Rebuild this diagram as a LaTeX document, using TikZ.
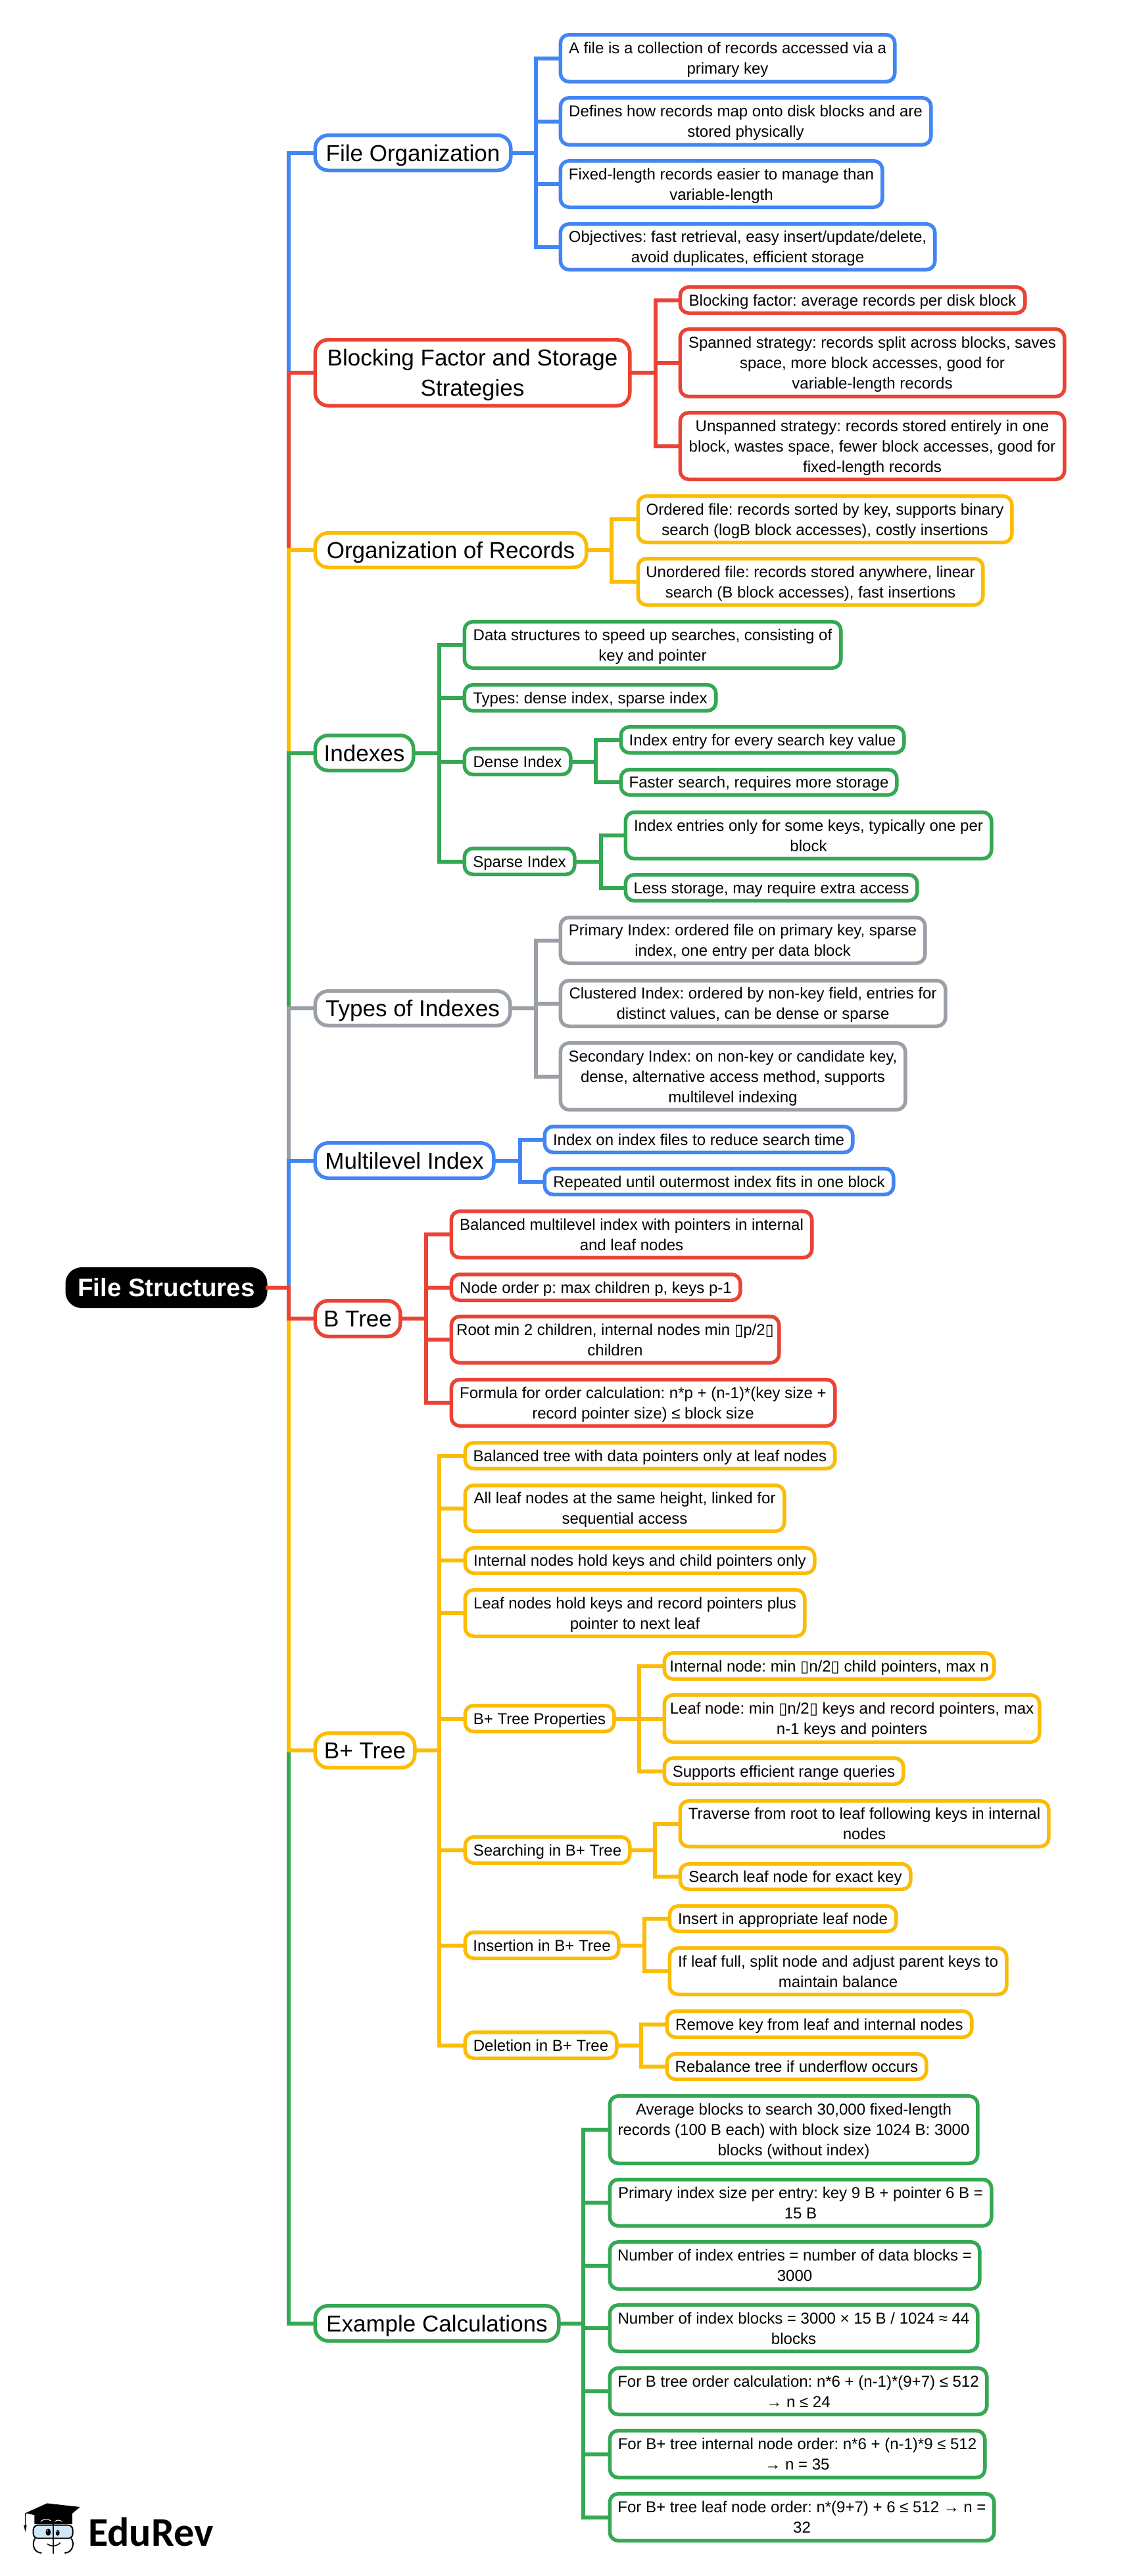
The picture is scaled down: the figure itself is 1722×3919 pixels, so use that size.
\documentclass[tikz,border=0pt]{standalone}
\usepackage{fontspec}
\setmainfont{Liberation Sans}
\newfontfamily\logofont{Carlito}
\newfontfamily\symfont{DejaVu Sans}
\definecolor{gblue}{HTML}{4285F4}
\definecolor{gred}{HTML}{EA4335}
\definecolor{gyel}{HTML}{FBBC04}
\definecolor{ggrn}{HTML}{34A853}
\definecolor{ggry}{HTML}{9AA0A6}
\definecolor{glass}{HTML}{CFE8F7}
\newcommand\tofu{{\symfont ▯}}
\tikzset{
  base/.style={rounded corners=#1,fill=white,line width=5.5pt,inner sep=0pt,outer sep=0pt,align=center,text=black,text depth=0pt},
  rootbox/.style={base=22pt,draw=black,fill=black,text=white,font=\frenchspacing\fontsize{38.5}{46}\selectfont\bfseries},
  lvone/.style={base=20pt,draw=#1,font=\frenchspacing\fontsize{35}{46.5}\selectfont},
  lvtwo/.style={base=13pt,draw=#1,font=\frenchspacing\fontsize{24}{31}\selectfont},
  conn/.style={line width=6pt,draw=#1,line join=miter},
}
\newcommand\bx[7]{%
  \pgfmathsetmacro\bcx{(#3+#5)/2}%
  \pgfmathsetmacro\bcy{(#4+#6)/2}%
  \pgfmathsetmacro\bw{#5-#3-2.5}%
  \pgfmathsetmacro\bh{#6-#4-5.5}%
  \node[#1,minimum width=\bw pt,minimum height=\bh pt] (#2) at (\bcx,\bcy) {#7};}
\newcommand\tr[2]{\coordinate (#1-t) at (#2,0);}
\newcommand\cn[3]{\draw[conn=#1] (#2.east) -- (#2.east -| #2-t) |- (#3.west);}
\begin{document}
\begin{tikzpicture}[x=1pt,y=-1pt]
\useasboundingbox (0,0) rectangle (1722,3919);
\fill[white] (0,0) rectangle (1722,3919);

% root and first level
\bx{rootbox}{root}{101}{1928}{405}{1990}{File Structures}
\bx{lvone=gblue}{f}{478}{203}{778}{262}{File Organization}
\bx{lvone=gred}{b}{478}{514}{959}{620}{Blocking Factor and Storage\\Strategies}
\bx{lvone=gyel}{o}{478}{808}{893}{866}{Organization of Records}
\bx{lvone=ggrn}{i}{478}{1116}{630}{1175}{Indexes}
\bx{lvone=ggry}{t}{478}{1505}{777}{1563}{Types of Indexes}
\bx{lvone=gblue}{m}{478}{1736}{752}{1795}{Multilevel Index}
\bx{lvone=gred}{bt}{478}{1976}{610}{2036}{B Tree}
\bx{lvone=gyel}{p}{478}{2634}{632}{2692}{B+ Tree}
\bx{lvone=ggrn}{e}{478}{3505}{851}{3564}{Example Calculations}

% File Organization
\bx{lvtwo=gblue}{f1}{851}{50}{1362}{127}{A file is a collection of records accessed via a\\primary key}
\bx{lvtwo=gblue}{f2}{851}{146}{1417}{223}{Defines how records map onto disk blocks and are\\stored physically}
\bx{lvtwo=gblue}{f3}{851}{242}{1343}{318}{Fixed-length records easier to manage than\\variable-length}
\bx{lvtwo=gblue}{f4}{851}{338}{1423}{413}{Objectives: fast retrieval, easy insert/update/delete,\\avoid duplicates, efficient storage}

% Blocking
\bx{lvtwo=gred}{b1}{1033}{434}{1560}{479}{Blocking factor: average records per disk block}
\bx{lvtwo=gred}{b2}{1033}{498}{1620}{606}{Spanned strategy: records split across blocks, saves\\space, more block accesses, good for\\variable-length records}
\bx{lvtwo=gred}{b3}{1033}{625}{1620}{732}{Unspanned strategy: records stored entirely in one\\block, wastes space, fewer block accesses, good for\\fixed-length records}

% Organization
\bx{lvtwo=gyel}{o1}{969}{752}{1540}{828}{Ordered file: records sorted by key, supports binary\\search (logB block accesses), costly insertions}
\bx{lvtwo=gyel}{o2}{969}{847}{1496}{923}{Unordered file: records stored anywhere, linear\\search (B block accesses), fast insertions}

% Indexes
\bx{lvtwo=ggrn}{i1}{705}{943}{1280}{1019}{Data structures to speed up searches, consisting of\\key and pointer}
\bx{lvtwo=ggrn}{i2}{705}{1039}{1090}{1084}{Types: dense index, sparse index}
\bx{lvtwo=ggrn}{i3}{705}{1136}{869}{1181}{Dense Index}
\bx{lvtwo=ggrn}{i31}{943}{1103}{1376}{1148}{Index entry for every search key value}
\bx{lvtwo=ggrn}{i32}{943}{1168}{1365}{1212}{Faster search, requires more storage}
\bx{lvtwo=ggrn}{i4}{705}{1288}{875}{1333}{Sparse Index}
\bx{lvtwo=ggrn}{i41}{950}{1233}{1509}{1309}{Index entries only for some keys, typically one per\\block}
\bx{lvtwo=ggrn}{i42}{950}{1328}{1396}{1373}{Less storage, may require extra access}

% Types
\bx{lvtwo=ggry}{t1}{851}{1393}{1408}{1468}{Primary Index: ordered file on primary key, sparse\\index, one entry per data block}
\bx{lvtwo=ggry}{t2}{851}{1489}{1439}{1564}{Clustered Index: ordered by non-key field, entries for\\distinct values, can be dense or sparse}
\bx{lvtwo=ggry}{t3}{851}{1584}{1378}{1691}{Secondary Index: on non-key or candidate key,\\dense, alternative access method, supports\\multilevel indexing}

% Multilevel
\bx{lvtwo=gblue}{m1}{827}{1711}{1298}{1756}{Index on index files to reduce search time}
\bx{lvtwo=gblue}{m2}{827}{1775}{1360}{1820}{Repeated until outermost index fits in one block}

% B Tree
\bx{lvtwo=gred}{bt1}{685}{1840}{1236}{1916}{Balanced multilevel index with pointers in internal\\and leaf nodes}
\bx{lvtwo=gred}{bt2}{685}{1936}{1127}{1981}{Node order p: max children p, keys p-1}
\bx{lvtwo=gred}{bt3}{685}{2000}{1186}{2076}{Root min 2 children, internal nodes min \tofu p/2\tofu\\children}
\bx{lvtwo=gred}{bt4}{685}{2096}{1271}{2172}{Formula for order calculation: n*p + (n-1)*(key size +\\record pointer size) ≤ block size}

% B+ Tree
\bx{lvtwo=gyel}{p1}{706}{2192}{1271}{2237}{Balanced tree with data pointers only at leaf nodes}
\bx{lvtwo=gyel}{p2}{706}{2257}{1194}{2332}{All leaf nodes at the same height, linked for\\sequential access}
\bx{lvtwo=gyel}{p3}{706}{2352}{1240}{2396}{Internal nodes hold keys and child pointers only}
\bx{lvtwo=gyel}{p4}{706}{2416}{1225}{2492}{Leaf nodes hold keys and record pointers plus\\pointer to next leaf}
\bx{lvtwo=gyel}{p5}{706}{2592}{935}{2637}{B+ Tree Properties}
\bx{lvtwo=gyel}{p51}{1009}{2512}{1513}{2557}{Internal node: min \tofu n/2\tofu{} child pointers, max n}
\bx{lvtwo=gyel}{p52}{1009}{2576}{1582}{2653}{Leaf node: min \tofu n/2\tofu{} keys and record pointers, max\\n-1 keys and pointers}
\bx{lvtwo=gyel}{p53}{1009}{2672}{1375}{2717}{Supports efficient range queries}
\bx{lvtwo=gyel}{p6}{706}{2792}{959}{2837}{Searching in B+ Tree}
\bx{lvtwo=gyel}{p61}{1033}{2737}{1596}{2812}{Traverse from root to leaf following keys in internal\\nodes}
\bx{lvtwo=gyel}{p62}{1033}{2833}{1386}{2877}{Search leaf node for exact key}
\bx{lvtwo=gyel}{p7}{706}{2937}{942}{2982}{Insertion in B+ Tree}
\bx{lvtwo=gyel}{p71}{1017}{2897}{1364}{2941}{Insert in appropriate leaf node}
\bx{lvtwo=gyel}{p72}{1017}{2961}{1532}{3037}{If leaf full, split node and adjust parent keys to\\maintain balance}
\bx{lvtwo=gyel}{p8}{706}{3089}{939}{3134}{Deletion in B+ Tree}
\bx{lvtwo=gyel}{p81}{1013}{3057}{1479}{3102}{Remove key from leaf and internal nodes}
\bx{lvtwo=gyel}{p82}{1013}{3122}{1410}{3166}{Rebalance tree if underflow occurs}

% Examples
\bx{lvtwo=ggrn}{e1}{926}{3186}{1488}{3294}{Average blocks to search 30,000 fixed-length\\records (100 B each) with block size 1024 B: 3000\\blocks (without index)}
\bx{lvtwo=ggrn}{e2}{926}{3313}{1509}{3389}{Primary index size per entry: key 9 B + pointer 6 B =\\15 B}
\bx{lvtwo=ggrn}{e3}{926}{3408}{1491}{3485}{Number of index entries = number of data blocks =\\3000}
\bx{lvtwo=ggrn}{e4}{926}{3504}{1488}{3580}{Number of index blocks = 3000 × 15 B / 1024 ≈ 44\\blocks}
\bx{lvtwo=ggrn}{e5}{926}{3600}{1502}{3676}{For B tree order calculation: n*6 + (n-1)*(9+7) ≤ 512\\→ n ≤ 24}
\bx{lvtwo=ggrn}{e6}{926}{3695}{1499}{3772}{For B+ tree internal node order: n*6 + (n-1)*9 ≤ 512\\→ n = 35}
\bx{lvtwo=ggrn}{e7}{926}{3791}{1513}{3868}{For B+ tree leaf node order: n*(9+7) + 6 ≤ 512 → n =\\32}

% trunks
\tr{root}{439}\tr{f}{815}\tr{b}{997}\tr{o}{930}\tr{i}{668}\tr{i3}{906}\tr{i4}{914}
\tr{t}{815}\tr{m}{791}\tr{bt}{648}\tr{p}{668}\tr{p5}{972}\tr{p6}{996}\tr{p7}{980}\tr{p8}{975}\tr{e}{887}

% root connectors: the farthest first, so that the nearest lies on top
\cn{gblue}{root}{f}
\cn{gred}{root}{b}
\cn{gyel}{root}{o}
\cn{ggrn}{root}{i}
\cn{ggry}{root}{t}
\cn{gblue}{root}{m}
\cn{ggrn}{root}{e}
\cn{gyel}{root}{p}
\cn{gred}{root}{bt}

\cn{gblue}{f}{f1}\cn{gblue}{f}{f2}\cn{gblue}{f}{f3}\cn{gblue}{f}{f4}
\cn{gred}{b}{b1}\cn{gred}{b}{b2}\cn{gred}{b}{b3}
\cn{gyel}{o}{o1}\cn{gyel}{o}{o2}
\cn{ggrn}{i}{i1}\cn{ggrn}{i}{i2}\cn{ggrn}{i}{i3}\cn{ggrn}{i}{i4}
\cn{ggrn}{i3}{i31}\cn{ggrn}{i3}{i32}
\cn{ggrn}{i4}{i41}\cn{ggrn}{i4}{i42}
\cn{ggry}{t}{t1}\cn{ggry}{t}{t2}\cn{ggry}{t}{t3}
\cn{gblue}{m}{m1}\cn{gblue}{m}{m2}
\cn{gred}{bt}{bt1}\cn{gred}{bt}{bt2}\cn{gred}{bt}{bt3}\cn{gred}{bt}{bt4}
\cn{gyel}{p}{p1}\cn{gyel}{p}{p2}\cn{gyel}{p}{p3}\cn{gyel}{p}{p4}
\cn{gyel}{p}{p5}\cn{gyel}{p}{p6}\cn{gyel}{p}{p7}\cn{gyel}{p}{p8}
\cn{gyel}{p5}{p51}\cn{gyel}{p5}{p52}\cn{gyel}{p5}{p53}
\cn{gyel}{p6}{p61}\cn{gyel}{p6}{p62}
\cn{gyel}{p7}{p71}\cn{gyel}{p7}{p72}
\cn{gyel}{p8}{p81}\cn{gyel}{p8}{p82}
\cn{ggrn}{e}{e1}\cn{ggrn}{e}{e2}\cn{ggrn}{e}{e3}\cn{ggrn}{e}{e4}\cn{ggrn}{e}{e5}\cn{ggrn}{e}{e6}\cn{ggrn}{e}{e7}

% logo
\node[anchor=base west,inner sep=0pt,font=\fontsize{62}{62}\selectfont\logofont\bfseries] (logo) at (134,3873) {EduRev};
\begin{scope}[shift={(20,3790)},x=0.3333pt,y=-0.3333pt]
  % face
  \fill[glass,rounded corners=8pt] (92,155) rectangle (272,215);
  \draw[black,line width=2pt,rounded corners=7pt] (92,155) rectangle (272,215);
  \draw[black,line width=2pt] (100,215) .. controls (85,235) and (90,280) .. (130,282);
  \draw[black,line width=2pt] (265,215) .. controls (280,235) and (275,280) .. (235,282);
  \draw[black,line width=2pt] (182,140) -- (182,284);
  \fill[black] (160,187) ellipse [x radius=12,y radius=16];
  \fill[black] (203,190) ellipse [x radius=9,y radius=13];
  \fill[white] (157,181) circle (3);
  \fill[white] (200,185) circle (3);
  \draw[black,line width=1.5pt] (155,240) .. controls (175,255) and (200,252) .. (215,235);
  % cap
  \fill[black] (97,108) -- (97,150) -- (270,150) -- (270,105) -- cycle;
  \fill[black] (55,100) -- (155,55) -- (305,72) -- (230,135) -- cycle;
  \draw[white,line width=1pt] (125,138) .. controls (140,125) and (160,125) .. (172,135);
  \draw[white,line width=1pt] (190,138) .. controls (200,130) and (212,130) .. (222,138);
  % tassel
  \draw[black,line width=1.5pt] (55,100) -- (55,155);
  \fill[black] (48,155) -- (62,155) -- (56,185) -- cycle;
\end{scope}
\end{tikzpicture}
\end{document}
